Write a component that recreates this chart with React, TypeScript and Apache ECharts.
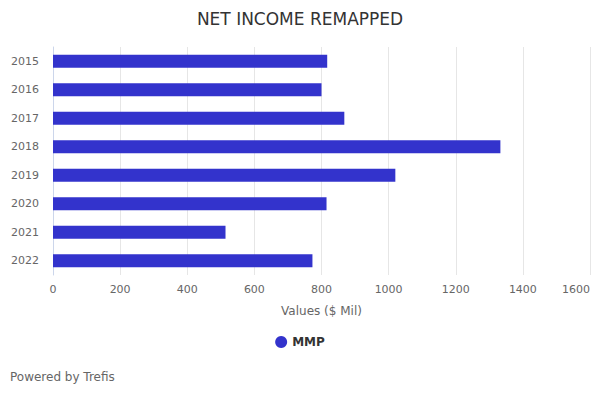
import { useEffect, useRef } from 'react';
import * as echarts from 'echarts';

const years = ['2015', '2016', '2017', '2018', '2019', '2020', '2021', '2022'];
const netIncome = [817, 800, 868, 1333, 1020, 815, 514, 773];
const seriesName = 'MMP';

const App = () => {
    const chartRef = useRef<HTMLDivElement>(null);

    useEffect(() => {
        if (!chartRef.current) return;
        const chart = echarts.init(chartRef.current, null, { renderer: 'svg' });

        chart.setOption({
            animation: false,
            backgroundColor: '#fff',
            textStyle: { fontFamily: 'DejaVu Sans' },
            title: {
                text: 'NET INCOME REMAPPED',
                left: 'center',
                top: 5,
                textStyle: { fontSize: 17, fontWeight: 'normal', color: '#333' }
            },
            grid: { left: 53, right: 10, top: 47, bottom: 125, outerBoundsMode: 'none' },
            xAxis: {
                type: 'value',
                min: 0,
                max: 1600,
                interval: 200,
                name: 'Values ($ Mil)',
                nameLocation: 'middle',
                nameGap: 30,
                nameTextStyle: { color: '#666', fontSize: 12 },
                axisLine: { show: false },
                axisTick: { show: false },
                axisLabel: {
                    color: '#666',
                    fontSize: 11,
                    margin: 9,
                    alignMaxLabel: 'right',
                    formatter: (v: number) => String(v)
                },
                splitLine: { lineStyle: { color: '#e6e6e6' } }
            },
            yAxis: {
                type: 'category',
                data: years,
                inverse: true,
                axisLine: { lineStyle: { color: '#ccd6eb' } },
                axisTick: { show: false },
                axisLabel: { color: '#666', fontSize: 11, margin: 14 }
            },
            legend: {
                top: 331,
                left: 'center',
                icon: 'circle',
                itemWidth: 12,
                itemHeight: 12,
                textStyle: { color: '#333', fontSize: 12, fontWeight: 'bold' },
                data: [seriesName]
            },
            graphic: [
                {
                    type: 'text',
                    left: 10,
                    top: 371,
                    style: { text: 'Powered by Trefis', fill: '#666', fontSize: 12, fontFamily: 'DejaVu Sans' }
                }
            ],
            series: [
                {
                    name: seriesName,
                    type: 'bar',
                    data: netIncome,
                    barWidth: 13,
                    itemStyle: { color: '#3333cc' }
                }
            ]
        });

        return () => chart.dispose();
    }, []);

    return (
        <div
            ref={chartRef}
            style={{ position: 'absolute', left: 0, top: 0, width: '600px', height: '400px' }}
        />
    );
};

export default App;
